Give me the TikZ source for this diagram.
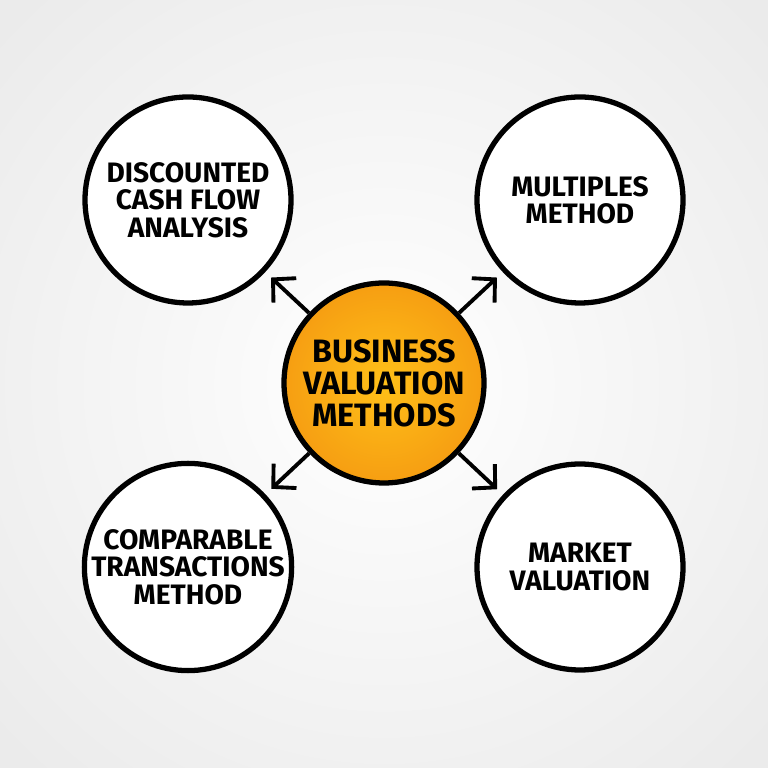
\documentclass[tikz,border=0pt]{standalone}
\usepackage{fontspec}
\setmainfont{Fira Sans}
\usetikzlibrary{arrows.meta}
\definecolor{hubinner}{RGB}{255,192,24}
\definecolor{hubouter}{RGB}{246,158,18}
\begin{document}
\begin{tikzpicture}[scale=1,
    topic/.style={circle, draw=black, line width=1.5pt, fill=white, minimum size=2.06cm,
      inner sep=0pt, align=center, font=\bfseries\fontsize{8}{7.8}\selectfont},
    hub/.style={topic, minimum size=2.0cm, inner color=hubinner, outer color=hubouter,
      font=\bfseries\fontsize{9.2}{9.1}\selectfont},
    link/.style={->, >={Straight Barb[length=4.6pt,width=9.5pt]}, line width=1.1pt, shorten >=0.08cm}]
      \clip (0,0) rectangle (7.68,7.68);
      \shade[inner color=white, outer color=black!8] (-1.5,-1.5) rectangle (9.18,9.18);
      \node[hub] (bvm) at (3.84,3.85) {BUSINESS\\VALUATION\\METHODS};
      \node[topic] (dcf) at (1.88,5.68) {DISCOUNTED\\CASH FLOW\\ANALYSIS};
      \node[topic] (mult) at (5.80,5.68) {MULTIPLES\\METHOD};
      \node[topic] (comp) at (1.88,2.01) {COMPARABLE\\TRANSACTIONS\\METHOD};
      \node[topic] (mkt) at (5.80,2.01) {MARKET\\VALUATION};
      \draw[link] (bvm) -- (dcf);
      \draw[link] (bvm) -- (mult);
      \draw[link] (bvm) -- (comp);
      \draw[link] (bvm) -- (mkt);
\end{tikzpicture}
\end{document}
